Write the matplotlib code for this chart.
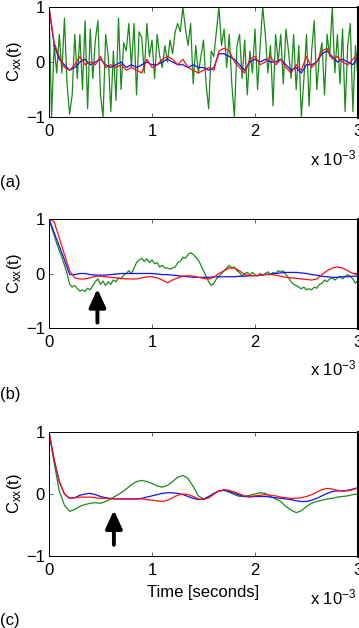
import numpy as np
import matplotlib
matplotlib.use("Agg")
import matplotlib.pyplot as plt

plt.rcParams['font.family'] = ['Liberation Sans', 'DejaVu Sans']
plt.rcParams['mathtext.fontset'] = 'custom'
plt.rcParams['mathtext.rm'] = 'Liberation Sans'
plt.rcParams['mathtext.it'] = 'Liberation Sans'

# time axis in ms (labelled x 10^-3 s)
STEP_FINE = 0.025
STEP = 0.05

# ---- panel (a) ----
a_green = [1.0, -1.0, 0.3, -0.2, 0.5, -0.2, 0.8, -0.4, -0.95, -0.6,
           0.5, -0.3, 0.5, -0.5, 0.75, -0.85, 0.6, -0.3, 0.4, 0.75,
           -0.6, -1.0, 0.5, 0.1, -0.9, 0.2, -0.7, 0.8, -0.5, 0.35,
           0.2, 0.7, -0.1, 0.7, -0.6, 0.55, 0.45, -0.2, 0.7, 0.1,
           0.4, -0.3, 0.5, 0.1, -0.1, 0.3, 0.0, 0.4, 0.15, 0.55,
           0.7, 0.55, 1.0, 0.6, 0.3, 0.7, -0.4, 0.3, -0.2, 0.1,
           0.4, -0.4, -0.85, 0.2, 0.1, 0.55, 1.0, 0.3, 0.6, -0.1,
           0.5, -0.4, -1.0, 0.3, 0.5, -0.3, 0.4, -0.6, 0.2, -0.2,
           0.6, -0.5, 0.3, 1.0, 0.5, -0.2, 0.3, -0.8, 0.5, 0.0,
           0.5, -0.4, 0.6, 0.2, -0.3, 0.5, -0.5, 0.3, -1.0, -0.3,
           0.5, -0.8, 0.2, 0.75, -0.5, 0.1, 0.35, -0.6, 0.5, 0.1,
           1.0, -0.2, 0.5, -0.4, 0.6, -0.9, 0.3, 0.7, -0.9, 0.3, -0.3]
a_blue = [1.0, 0.3, 0.05, -0.05, -0.15, -0.1, 0.0, 0.05, -0.05, 0.0,
          0.05, -0.05, -0.1, -0.05, 0.0, -0.1, -0.05, -0.1, -0.05, 0.0,
          -0.05, -0.05, 0.0, 0.05, 0.0, -0.05, -0.05, -0.1, -0.05, -0.1,
          -0.1, -0.15, -0.1, 0.15, 0.15, 0.1, 0.05, -0.05, -0.15, 0.0,
          0.05, 0.0, 0.05, 0.0, 0.0, 0.05, -0.05, -0.15, -0.1, -0.2,
          -0.05, -0.05, 0.0, 0.15, 0.2, 0.1, 0.0, 0.05, 0.0, -0.05, 0.1]
a_red = [1.0, 0.35, 0.1, -0.1, -0.15, -0.05, 0.1, -0.05, 0.0, -0.05,
         0.1, -0.1, -0.05, -0.1, -0.05, -0.15, -0.1, -0.15, -0.2, 0.05,
         -0.1, -0.05, 0.05, 0.1, 0.05, -0.05, 0.05, -0.1, -0.15, -0.2,
         -0.15, -0.1, -0.15, 0.2, 0.25, 0.2, 0.0, -0.1, -0.2, 0.05,
         0.1, -0.05, 0.0, 0.1, -0.05, 0.05, -0.1, -0.2, -0.05, -0.15,
         0.1, -0.1, 0.0, 0.2, 0.25, 0.05, 0.1, 0.0, -0.05, 0.05, 0.15]

# ---- panel (b) ----
b_blue = [1.0, 0.75, 0.5, 0.25, -0.02, -0.02, 0.0, 0.0, -0.02, -0.03,
          -0.03, -0.03, -0.02, -0.01, 0.0, 0.0, 0.0, 0.0, 0.0, 0.0,
          0.0, -0.01, -0.02, -0.02, -0.03, -0.04, -0.05, -0.06, -0.07, -0.07,
          -0.07, -0.07, -0.06, -0.06, -0.06, -0.06, -0.06, -0.05, -0.05, -0.04,
          -0.04, -0.03, -0.02, -0.01, 0.0, 0.01, 0.02, 0.02, 0.02, 0.01,
          0.0, -0.02, -0.03, -0.05, -0.06, -0.07, -0.07, -0.06, -0.06, -0.05, -0.05]
b_red = [1.0, 0.95, 0.65, 0.35, 0.05, -0.08, -0.1, -0.1, -0.08, -0.05,
         -0.05, -0.06, -0.07, -0.08, -0.09, -0.1, -0.1, -0.1, -0.08, -0.06,
         -0.06, -0.08, -0.12, -0.17, -0.12, -0.08, -0.05, -0.04, -0.05, -0.07,
         -0.09, -0.1, -0.07, 0.0, 0.05, 0.1, 0.1, 0.05, -0.02, -0.04,
         -0.04, -0.03, -0.02, -0.02, -0.03, -0.05, -0.07, -0.08, -0.09, -0.1,
         -0.11, -0.12, -0.1, -0.02, 0.05, 0.1, 0.12, 0.1, 0.05, 0.0, 0.0]
b_green = [1.0, 0.85, 0.7, 0.55, 0.42, 0.3, 0.15, 0.0, -0.2, -0.25,
           -0.22, -0.28, -0.32, -0.3, -0.33, -0.27, -0.3, -0.22, -0.15, -0.1,
           -0.2, -0.14, -0.22, -0.15, -0.2, -0.12, -0.15, -0.08, -0.1, -0.03,
           0.0, 0.05, 0.0, 0.1, 0.2, 0.25, 0.28, 0.22, 0.27, 0.2,
           0.25, 0.18, 0.2, 0.12, 0.15, 0.1, 0.1, 0.08, 0.1, 0.12,
           0.2, 0.22, 0.3, 0.28, 0.35, 0.38, 0.35, 0.3, 0.25, 0.15,
           0.05, -0.05, -0.15, -0.22, -0.18, -0.1, -0.05, 0.0, 0.05, 0.1,
           0.15, 0.1, 0.12, 0.05, 0.02, -0.05, 0.0, 0.02, -0.03, 0.02,
           -0.02, -0.05, 0.0, -0.03, 0.0, 0.03, -0.02, 0.02, 0.0, 0.05,
           0.03, 0.05, -0.02, -0.08, -0.15, -0.2, -0.22, -0.25, -0.28, -0.25,
           -0.3, -0.28, -0.3, -0.25, -0.27, -0.2, -0.18, -0.12, -0.15, -0.1,
           -0.08, -0.12, -0.08, -0.05, -0.1, -0.05, -0.02, -0.05, -0.1, -0.18, -0.12]

# ---- panel (c) ----
c_blue = [1.0, 0.55, 0.2, 0.0, -0.07, -0.06, -0.02, 0.0, 0.01, -0.01,
          -0.04, -0.06, -0.07, -0.08, -0.08, -0.08, -0.08, -0.08, -0.07, -0.05,
          -0.03, -0.01, 0.01, 0.02, 0.02, 0.01, -0.01, -0.04, -0.07, -0.09,
          -0.08, -0.04, 0.01, 0.05, 0.06, 0.04, 0.01, -0.02, -0.04, -0.05,
          -0.04, -0.04, -0.04, -0.05, -0.06, -0.07, -0.08, -0.09, -0.11, -0.12,
          -0.12, -0.1, -0.07, -0.03, 0.01, 0.04, 0.05, 0.05, 0.06, 0.08, 0.1]
c_red = [1.0, 0.55, 0.2, 0.0, -0.07, -0.06, -0.05, -0.05, -0.05, -0.06,
         -0.07, -0.07, -0.08, -0.08, -0.08, -0.08, -0.08, -0.08, -0.08, -0.09,
         -0.1, -0.11, -0.12, -0.1, -0.06, -0.02, 0.0, -0.01, -0.04, -0.08,
         -0.09, -0.06, 0.0, 0.05, 0.07, 0.06, 0.03, 0.0, -0.03, -0.04,
         -0.03, -0.02, -0.01, -0.02, -0.03, -0.05, -0.06, -0.07, -0.07, -0.06,
         -0.04, -0.01, 0.03, 0.07, 0.09, 0.08, 0.06, 0.05, 0.05, 0.07, 0.1]
c_green = [1.0, 0.5, 0.05, -0.18, -0.28, -0.25, -0.2, -0.17, -0.15, -0.14,
           -0.15, -0.12, -0.08, -0.03, 0.02, 0.08, 0.15, 0.2, 0.22, 0.2,
           0.17, 0.13, 0.11, 0.14, 0.2, 0.27, 0.3, 0.25, 0.12, -0.03,
           -0.08, -0.06, 0.0, 0.05, 0.06, 0.03, -0.01, -0.04, -0.04, -0.02,
           0.0, 0.02, 0.01, -0.04, -0.08, -0.12, -0.2, -0.26, -0.3, -0.27,
           -0.2, -0.15, -0.12, -0.1, -0.08, -0.07, -0.05, -0.04, -0.03, -0.01, 0.0]

# arrows: (x in ms, tail y, head y)
b_arrow = (0.47, -0.9, -0.28)
c_arrow = (0.63, -0.82, -0.26)

GREEN = '#1a8a1a'
BLUE = '#1010ff'
RED = '#ff1010'

W, H = 359, 628
FS = 12
fig = plt.figure(figsize=(W / 100, H / 100), dpi=100)


def px(x0, y0, x1, y1):
    return [x0 / W, 1 - y1 / H, (x1 - x0) / W, (y1 - y0) / H]


def tt(vals, step):
    return np.arange(len(vals)) * step


def setup(ax):
    ax.set_xlim(0, 3)
    ax.set_ylim(-1, 1)
    ax.set_xticks([0, 1, 2, 3])
    ax.set_yticks([-1, 0, 1])
    ax.tick_params(direction='in', top=True, right=True, length=3,
                   width=0.6, labelsize=FS, pad=3, color='#444444')
    ax.tick_params(axis='x', pad=5)
    for s in ax.spines.values():
        s.set_linewidth(0.7)
    ax.spines['right'].set_linewidth(2.2)
    ax.set_ylabel(r'C$_{\mathregular{xx}}$(t)', fontsize=FS, labelpad=1)


panels = [
    (px(49, 7, 358, 117), [(a_green, STEP_FINE, GREEN), (a_blue, STEP, BLUE), (a_red, STEP, RED)], None),
    (px(49, 219, 358, 328), [(b_green, STEP_FINE, GREEN), (b_blue, STEP, BLUE), (b_red, STEP, RED)], b_arrow),
    (px(49, 432, 358, 556), [(c_green, STEP, GREEN), (c_blue, STEP, BLUE), (c_red, STEP, RED)], c_arrow),
]

axes = []
for rect, series, arrow in panels:
    ax = fig.add_axes(rect)
    for vals, step, col in series:
        ax.plot(tt(vals, step), vals, color=col, lw=0.9)
    if arrow is not None:
        ax.annotate('', xy=(arrow[0], arrow[2]), xytext=(arrow[0], arrow[1]),
                    arrowprops=dict(arrowstyle='-|>,head_width=0.5,head_length=1.1',
                                    color='black', lw=2.8, shrinkA=0, shrinkB=0))
    setup(ax)
    axes.append(ax)

axes[2].set_xlabel('Time [seconds]', fontsize=FS, labelpad=5)

for ypix in (158, 368, 597):
    fig.text(356 / W, 1 - ypix / H, r'x 10$^{\mathregular{-3}}$', fontsize=FS,
             ha='right', va='center')

for lab, ypix in (('(a)', 182), ('(b)', 394), ('(c)', 620)):
    fig.text(0 / W, 1 - ypix / H, lab, fontsize=FS, ha='left', va='center')

fig.savefig('out.png', dpi=100)
